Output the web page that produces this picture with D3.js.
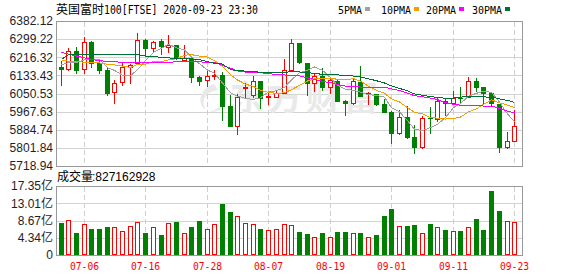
<!DOCTYPE html>
<html>
<head>
<meta charset="utf-8">
<script src="https://cdn.jsdelivr.net/npm/d3@7/dist/d3.min.js"></script>
<style>
  html, body { margin: 0; padding: 0; background: #fff; }
  svg { display: block; }
</style>
</head>
<body>
<svg id="chart" width="578" height="276"></svg>
<script>
// trading days 2020-07-01 .. 2020-09-23
const dates = [
  '07-01','07-02','07-03','07-06','07-07','07-08','07-09','07-10','07-13','07-14',
  '07-15','07-16','07-17','07-20','07-21','07-22','07-23','07-24','07-27','07-28',
  '07-29','07-30','07-31','08-03','08-04','08-05','08-06','08-07','08-10','08-11',
  '08-12','08-13','08-14','08-17','08-18','08-19','08-20','08-21','08-24','08-25',
  '08-26','08-27','08-28','09-01','09-02','09-03','09-04','09-07','09-08','09-09',
  '09-10','09-11','09-14','09-15','09-16','09-17','09-18','09-21','09-22','09-23'
];
const opens = [
  6171.7, 6161.2, 6244.9, 6161.2, 6287.5, 6188.6, 6158.0, 6056.0, 6101.7, 6173.1,
  6188.6, 6295.2, 6257.2, 6290.6, 6264.6, 6272.4, 6206.0, 6211.5, 6127.4, 6112.3,
  6132.0, 6135.1, 5993.3, 5903.4, 6075.7, 6042.3, 6107.7, 6035.9, 6035.9, 6054.2,
  6158.0, 6280.1, 6188.6, 6097.2, 6132.0, 6081.6, 6107.7, 6017.6, 6005.7, 6104.5,
  6048.2, 6046.9, 6002.5, 5967.3, 5868.5, 5941.7, 5853.0, 5804.5, 5939.8, 5932.5,
  6016.2, 6008.4, 6031.3, 6035.9, 6107.7, 6078.9, 6054.2, 6002.5, 5807.3, 5834.6
];
const highs = [
  6199.2, 6257.3, 6264.6, 6307.6, 6290.6, 6203.7, 6170.3, 6112.3, 6188.6, 6187.7,
  6328.6, 6298.4, 6292.0, 6299.8, 6318.1, 6274.0, 6272.4, 6213.0, 6130.6, 6154.8,
  6158.0, 6150.2, 6043.7, 6048.2, 6097.2, 6130.6, 6109.0, 6056.0, 6066.5, 6207.0,
  6298.4, 6281.0, 6190.0, 6142.9, 6165.8, 6120.0, 6112.0, 6019.0, 6120.0, 6177.7,
  6058.8, 6049.0, 6025.0, 5969.0, 5975.1, 5994.7, 5906.5, 5947.6, 5987.4, 6035.9,
  6028.6, 6062.0, 6081.6, 6124.6, 6122.8, 6080.0, 6058.8, 6004.0, 5875.8, 5975.1
];
const lows = [
  6089.4, 6158.0, 6142.9, 6142.9, 6173.1, 6145.6, 6043.7, 6008.4, 6089.4, 6097.0,
  6188.6, 6231.2, 6241.7, 6229.8, 6241.7, 6207.0, 6203.0, 6104.5, 6089.4, 6086.2,
  6116.8, 5929.3, 5900.0, 5863.9, 6031.3, 6035.9, 5982.8, 6001.1, 6035.0, 6054.2,
  6158.0, 6191.0, 6043.7, 6062.0, 6066.5, 6051.4, 6014.0, 5952.2, 6004.0, 6039.0,
  6002.0, 6000.0, 5966.0, 5822.7, 5867.0, 5845.6, 5779.8, 5803.0, 5871.2, 5926.1,
  5952.2, 6007.0, 6013.0, 6034.0, 6062.0, 6005.7, 5997.9, 5781.6, 5799.9, 5834.6
];
const closes = [
  6161.2, 6243.5, 6158.0, 6284.7, 6188.6, 6158.0, 6051.4, 6099.9, 6173.1, 6178.6,
  6295.2, 6257.2, 6287.5, 6267.8, 6272.4, 6211.5, 6211.5, 6127.4, 6109.1, 6130.6,
  6134.4, 5993.3, 5901.9, 6033.1, 6078.9, 6109.1, 6031.3, 6040.5, 6054.2, 6158.0,
  6280.1, 6193.2, 6097.2, 6130.6, 6081.6, 6112.3, 6016.2, 6008.4, 6107.7, 6040.5,
  6051.4, 6002.5, 5967.3, 5868.5, 5941.7, 5853.0, 5804.5, 5937.1, 5937.1, 6016.2,
  6008.4, 6031.3, 6028.6, 6107.7, 6081.6, 6054.2, 6008.4, 5807.3, 5833.2, 5901.9
];
// moving averages as drawn
const ma5 = [
  6182, 6192, 6193, 6204, 6207.2, 6206.6, 6168.1, 6156.5, 6134.2, 6132.2,
  6159.6, 6200.8, 6238.3, 6257.3, 6276.0, 6259.3, 6250.1, 6218.1, 6186.4, 6158.0,
  6142.6, 6099.0, 6053.9, 6038.7, 6028.3, 6023.3, 6030.9, 6058.6, 6062.8, 6078.6,
  6112.8, 6145.2, 6156.5, 6171.8, 6156.5, 6123.0, 6087.6, 6069.8, 6065.2, 6057.0,
  6044.8, 6042.1, 6033.9, 5986.0, 5966.3, 5926.6, 5887.0, 5881.0, 5894.7, 5909.6,
  5940.7, 5986.0, 6004.3, 6038.4, 6051.5, 6060.7, 6056.1, 6011.8, 5956.9, 5921.0
];
const ma10 = [
  6204, 6198, 6196, 6194, 6192, 6190, 6184, 6181, 6176, 6169.7,
  6183.1, 6184.5, 6197.4, 6195.7, 6204.1, 6209.5, 6225.5, 6228.2, 6221.8, 6217.0,
  6200.9, 6174.6, 6136.0, 6112.5, 6093.2, 6082.9, 6064.9, 6056.2, 6050.7, 6053.5,
  6068.0, 6088.0, 6107.6, 6117.3, 6117.6, 6117.9, 6116.4, 6113.2, 6118.5, 6106.8,
  6083.9, 6064.8, 6051.9, 6025.6, 6011.7, 5985.7, 5964.6, 5957.4, 5940.4, 5937.9,
  5933.6, 5936.5, 5942.6, 5966.6, 5980.6, 6000.7, 6021.1, 6008.1, 5997.7, 5986.3
];
const ma20 = [
  6239, 6231, 6222, 6213, 6206, 6201, 6197, 6195, 6194, 6194,
  6193, 6193, 6193, 6194, 6194, 6195, 6197, 6197, 6195, 6193.4,
  6192.0, 6179.5, 6166.7, 6154.1, 6148.6, 6146.2, 6145.2, 6142.2, 6136.3, 6135.2,
  6134.5, 6131.3, 6121.8, 6114.9, 6105.4, 6100.4, 6090.7, 6084.7, 6084.6, 6080.1,
  6076.0, 6076.4, 6079.7, 6071.5, 6064.6, 6051.8, 6040.5, 6035.3, 6029.4, 6022.4,
  6008.8, 6000.7, 5997.2, 5996.1, 5996.1, 5993.2, 5992.8, 5982.8, 5969.0, 5962.1
];
const ma30 = [
  6207, 6229, 6231, 6231, 6231, 6231, 6231, 6231, 6231, 6231,
  6229, 6222, 6219, 6216, 6213, 6212, 6211, 6208, 6205, 6196,
  6189, 6185, 6160, 6155, 6153, 6150, 6148, 6146, 6146, 6146.7,
  6150.7, 6149.0, 6147.0, 6141.9, 6138.3, 6136.8, 6135.6, 6132.5, 6130.4, 6125.8,
  6117.6, 6109.1, 6098.5, 6085.2, 6074.1, 6062.2, 6048.6, 6042.3, 6036.5, 6032.7,
  6028.5, 6029.8, 6034.0, 6036.5, 6036.6, 6034.8, 6034.0, 6026.2, 6018.9, 6010.3
];
// volume in 亿
const volumes = [
  8.12, 8.80, 5.60, 7.80, 6.50, 6.50, 7.04, 6.95, 6.00, 7.30,
  8.30, 5.60, 7.00, 5.00, 8.00, 8.40, 5.50, 7.10, 8.55, 6.54,
  7.80, 12.90, 10.90, 9.80, 8.05, 7.80, 6.54, 6.30, 6.54, 7.80,
  7.54, 5.87, 5.36, 4.53, 5.53, 4.53, 5.87, 5.87, 5.53, 5.53,
  4.53, 5.03, 9.90, 11.65, 7.30, 7.37, 7.54, 5.53, 7.88, 7.04,
  6.29, 6.03, 6.03, 7.04, 9.05, 6.29, 16.10, 11.06, 8.55, 8.27
];
const priceTicks = [5718.94, 5801.84, 5884.74, 5967.63, 6050.53, 6133.43, 6216.32, 6299.22, 6382.12];
const volTicks = [0, 4.34, 8.67, 13.01, 17.35];
const volTickLabels = ['0', '4.34亿', '8.67亿', '13.01亿', '17.35亿'];
const dateTicks = ['07-06', '07-16', '07-28', '08-07', '08-19', '09-01', '09-11', '09-23'];
const maNames = ['5PMA', '10PMA', '20PMA', '30PMA'];
const maColors = ['#a0a0a0', '#f5a000', '#ff00ff', '#006f35'];

const RED = '#ff0000', GREEN = '#008000';
const svg = d3.select('#chart');

const x = d3.scaleBand().domain(dates).range([56.7, 518.1]);
const cx = d => Math.round(x(d) + x.bandwidth() / 2);
const yP = d3.scaleLinear().domain([5718.94, 6382.12]).range([166, 21]);
const yV = d3.scaleLinear().domain([0, 17.35]).range([255, 186]);
const px = v => Math.round(v) + 0.5;

const LEFT = 56, RIGHT = 522;

// grid lines
const grid = svg.append('g');
grid.selectAll('.hp').data(priceTicks.slice(1, -1)).join('line')
  .attr('x1', LEFT).attr('x2', RIGHT)
  .attr('y1', d => px(yP(d))).attr('y2', d => px(yP(d)))
  .attr('stroke', '#d2d2d2');
grid.selectAll('.hv').data(volTicks.slice(1, -1)).join('line')
  .attr('x1', LEFT).attr('x2', RIGHT)
  .attr('y1', d => px(yV(d))).attr('y2', d => px(yV(d)))
  .attr('stroke', '#d2d2d2');
[[22, 166], [187, 255]].forEach(([a, b]) => {
  grid.append('g').selectAll('line').data(dateTicks).join('line')
    .attr('x1', d => cx(d) + 0.5).attr('x2', d => cx(d) + 0.5)
    .attr('y1', a).attr('y2', b)
    .attr('stroke', '#cfcfcf')
    .attr('stroke-dasharray', '5,3');
});

// watermark (logo swirl + name)
const wm = svg.append('g').attr('fill', '#e9e9e9');
wm.append('path')
  .attr('d', 'M214,84 C200,88 196,104 206,110 C200,100 206,92 218,90 Z M222,92 C226,100 222,108 210,112 C222,112 230,104 226,92 Z');
wm.append('text')
  .attr('x', 230).attr('y', 110)
  .attr('font-family', '"Noto Sans CJK SC", sans-serif')
  .attr('font-size', 34).attr('font-weight', 'bold')
  .attr('letter-spacing', 4)
  .text('东方财富');

// frames
svg.append('rect').attr('x', LEFT + 0.5).attr('y', px(yP(6382.12)))
  .attr('width', RIGHT - LEFT).attr('height', px(yP(5718.94)) - px(yP(6382.12)))
  .attr('fill', 'none').attr('stroke', '#999');
svg.append('rect').attr('x', LEFT + 0.5).attr('y', px(yV(17.35)))
  .attr('width', RIGHT - LEFT).attr('height', px(yV(0)) - px(yV(17.35)))
  .attr('fill', 'none').attr('stroke', '#999');

// candles
const idx = d3.range(dates.length);
const up = i => closes[i] >= opens[i];
const candles = svg.append('g');
candles.selectAll('line').data(idx).join('line')
  .attr('x1', i => cx(dates[i]) + 0.5).attr('x2', i => cx(dates[i]) + 0.5)
  .attr('y1', i => Math.round(yP(highs[i]))).attr('y2', i => Math.round(yP(lows[i])) + 1)
  .attr('stroke', i => up(i) ? RED : GREEN);
candles.selectAll('rect').data(idx).join('rect')
  .each(function (i) {
    const top = Math.round(yP(Math.max(opens[i], closes[i])));
    const bot = Math.round(yP(Math.min(opens[i], closes[i])));
    const c = cx(dates[i]);
    const r = d3.select(this);
    if (up(i)) {
      r.attr('x', c - 2 + 0.5).attr('y', top + 0.5)
        .attr('width', 4).attr('height', Math.max(1, bot - top))
        .attr('fill', '#fff').attr('stroke', RED);
    } else {
      r.attr('x', c - 2).attr('y', top)
        .attr('width', 5).attr('height', Math.max(1, bot - top + 1))
        .attr('fill', GREEN);
    }
  });

// moving averages
[ma5, ma10, ma20, ma30].forEach((ma, k) => {
  svg.append('path')
    .datum(idx)
    .attr('d', d3.line().x(i => cx(dates[i]) + 0.5).y(i => yP(ma[i])))
    .attr('fill', 'none')
    .attr('stroke', maColors[k])
    .attr('stroke-width', 1)
    .attr('shape-rendering', 'crispEdges');
});

// volume bars
const vol = svg.append('g');
vol.selectAll('rect').data(idx).join('rect')
  .each(function (i) {
    const top = Math.round(yV(volumes[i]));
    const base = Math.round(yV(0));
    const c = cx(dates[i]);
    const r = d3.select(this);
    if (up(i)) {
      r.attr('x', c - 2 + 0.5).attr('y', top + 0.5)
        .attr('width', 4).attr('height', base - top - 1)
        .attr('fill', '#fff').attr('stroke', RED);
    } else {
      r.attr('x', c - 2).attr('y', top)
        .attr('width', 5).attr('height', base - top)
        .attr('fill', GREEN);
    }
  });

// y axis labels
const labelFont = '"Liberation Sans", Arial, "Noto Sans CJK SC", sans-serif';
svg.append('g').selectAll('text').data(priceTicks).join('text')
  .attr('x', 53).attr('y', d => yP(d)).attr('dy', '0.36em')
  .attr('text-anchor', 'end')
  .attr('font-family', labelFont).attr('font-size', 12).attr('fill', '#1e1e2a')
  .text(d => d.toFixed(2));
svg.append('g').selectAll('text').data(volTicks).join('text')
  .attr('x', 53).attr('y', d => yV(d)).attr('dy', '0.36em')
  .attr('text-anchor', 'end')
  .attr('font-family', labelFont).attr('font-size', 12).attr('fill', '#1e1e2a')
  .text((d, i) => volTickLabels[i]);

// x axis labels
const mono = '"DejaVu Sans Mono", "Liberation Mono", monospace';
svg.append('g').selectAll('text').data(dateTicks).join('text')
  .attr('x', d => cx(d) - 14).attr('y', 270)
  .attr('font-family', mono).attr('font-size', 11)
  .attr('textLength', 29).attr('lengthAdjust', 'spacingAndGlyphs')
  .attr('fill', RED)
  .text(d => d);

// title
svg.append('text').attr('x', 56).attr('y', 14)
  .attr('font-family', '"Noto Sans CJK SC", sans-serif').attr('font-size', 12)
  .text('英国富时');
svg.append('text').attr('x', 104).attr('y', 14)
  .attr('font-family', mono).attr('font-size', 12)
  .attr('textLength', 154).attr('lengthAdjust', 'spacingAndGlyphs')
  .text('100[FTSE] 2020-09-23 23:30');

// legend
const legX = [338, 381, 426, 472];
maNames.forEach((n, k) => {
  svg.append('text').attr('x', legX[k]).attr('y', 14)
    .attr('font-family', mono).attr('font-size', 11)
    .attr('textLength', n.length * 6).attr('lengthAdjust', 'spacingAndGlyphs')
    .text(n);
  svg.append('rect').attr('x', legX[k] + n.length * 6 + 3).attr('y', 7)
    .attr('width', 5).attr('height', 4).attr('fill', maColors[k]);
});

// volume header
svg.append('text').attr('x', 57).attr('y', 181)
  .attr('font-family', '"Noto Sans CJK SC", sans-serif').attr('font-size', 12)
  .text('成交量');
svg.append('text').attr('x', 92).attr('y', 181)
  .attr('font-family', labelFont).attr('font-size', 12)
  .text(':827162928');
</script>
</body>
</html>
